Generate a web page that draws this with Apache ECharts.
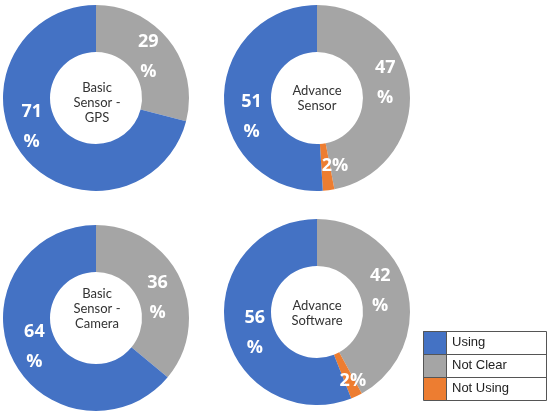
<!DOCTYPE html>
<html>
<head>
<meta charset="utf-8">
<script src="https://cdn.jsdelivr.net/npm/echarts@6/dist/echarts.min.js"></script>
<style>
html,body{margin:0;padding:0;background:#fff;}
#c{width:550px;height:415px;}
</style>
</head>
<body>
<div id="c"></div>
<script>
// ---- data ----
const categories = ['Not Clear', 'Not Using', 'Using'];
const legendOrder = ['Using', 'Not Clear', 'Not Using'];
const chartTitles = ['Basic\nSensor -\nGPS', 'Advance\nSensor', 'Basic\nSensor -\nCamera', 'Advance\nSoftware'];
const gpsValues = [29, 0, 71];
const advSensorValues = [47, 2, 51];
const cameraValues = [36, 0, 64];
const advSoftwareValues = [42, 2, 56];

// ---- styles / layout ----
const colors = { 'Using': '#4472C4', 'Not Clear': '#A5A5A5', 'Not Using': '#ED7D31' };
const centers = [[96, 98], [317, 98], [96, 318], [317, 312]];
const titlePos = [[97, 103], [317, 98], [97, 309], [317, 313]];
// label offsets per category [Not Clear, Not Using, Using]
const offsets = [
  [[-5, 3], [0, 0], [-7, -16]],
  [[-4, -8], [9, -4], [7, 17]],
  [[-4, 11], [0, 0], [4, -2]],
  [[-7, -3], [5, 3], [9, 7]]
];
const allValues = [gpsValues, advSensorValues, cameraValues, advSoftwareValues];

const series = allValues.map((vals, i) => ({
  type: 'pie',
  center: centers[i],
  radius: [46, 93],
  startAngle: 90,
  clockwise: true,
  silent: true,
  avoidLabelOverlap: false,
  emphasis: { disabled: true },
  labelLine: { show: false },
  label: {
    show: true,
    position: 'inside',
    color: '#fff',
    fontFamily: 'Open Sans',
    fontWeight: 'bold',
    fontSize: 18,
    lineHeight: 30,
    formatter: p => p.value >= 10 ? p.value + '\n%' : p.value + '%'
  },
  data: categories.map((c, k) => ({
    name: c,
    value: vals[k],
    itemStyle: { color: colors[c] },
    label: { offset: offsets[i][k], show: vals[k] > 0 }
  })).filter(d => d.value > 0)
}));

const title = chartTitles.map((t, i) => ({
  text: t,
  left: titlePos[i][0],
  top: titlePos[i][1],
  padding: 0,
  textAlign: 'center',
  textVerticalAlign: 'middle',
  textStyle: { fontFamily: 'Lato', fontSize: 13, fontWeight: 'normal', color: '#333', lineHeight: 15 }
}));

const chart = echarts.init(document.getElementById('c'), null, { renderer: 'canvas' });
chart.setOption({
  animation: false,
  backgroundColor: '#fff',
  title: title,
  legend: {
    data: legendOrder,
    orient: 'vertical',
    left: 423,
    top: 331,
    padding: 0,
    itemGap: 0,
    itemWidth: 23,
    itemHeight: 23,
    icon: 'rect',
    selectedMode: false,
    itemStyle: { borderWidth: 0 },
    textStyle: { fontFamily: 'Liberation Sans', fontSize: 13, color: '#222', padding: [0, 0, 0, 1] }
  },
  graphic: [
    { type: 'rect', shape: { x: 423.5, y: 331.5, width: 123, height: 69 }, style: { fill: null, stroke: '#555', lineWidth: 1 }, z: 100, silent: true },
    { type: 'line', shape: { x1: 423, y1: 354.5, x2: 546, y2: 354.5 }, style: { stroke: '#555', lineWidth: 1 }, z: 100, silent: true },
    { type: 'line', shape: { x1: 423, y1: 377.5, x2: 546, y2: 377.5 }, style: { stroke: '#555', lineWidth: 1 }, z: 100, silent: true },
    { type: 'line', shape: { x1: 446.5, y1: 331, x2: 446.5, y2: 400 }, style: { stroke: '#555', lineWidth: 1 }, z: 100, silent: true }
  ],
  series: series
});
</script>
</body>
</html>
